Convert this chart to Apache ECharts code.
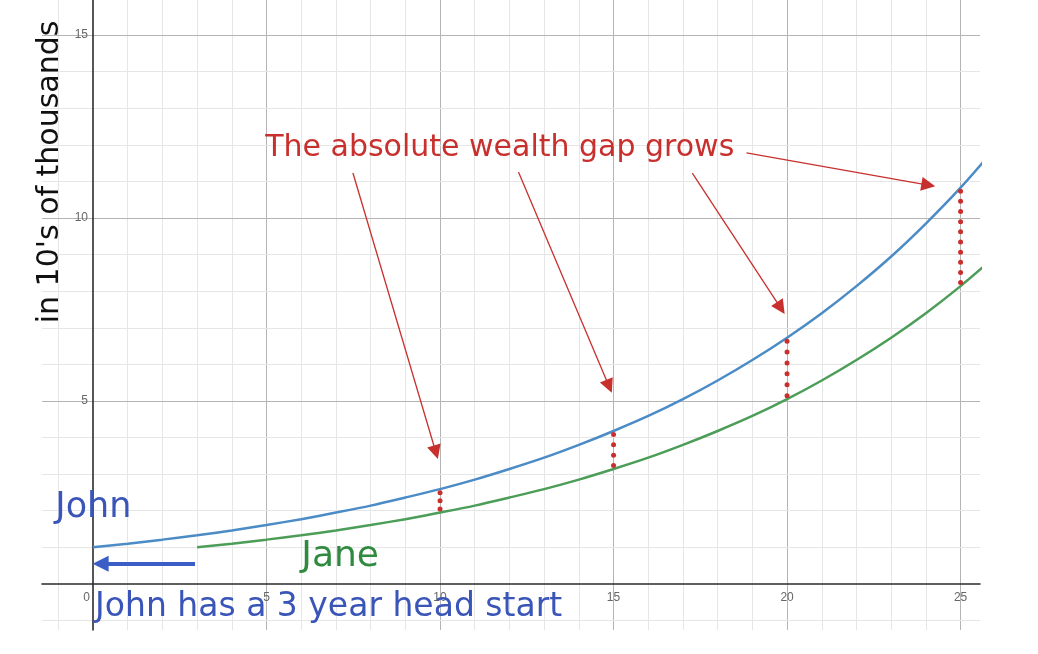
<!DOCTYPE html>
<html>
<head>
<meta charset="utf-8">
<script src="https://cdn.jsdelivr.net/npm/echarts@6/dist/echarts.min.js"></script>
<style>
html,body{margin:0;padding:0;background:#fff;}
#chart{width:1038px;height:654px;}
</style>
</head>
<body>
<div id="chart"></div>
<script>
// ---- data ----
const johnX = [0,1,2,3,4,5,6,7,8,9,10,11,12,13,14,15,16,17,18,19,20,21,22,23,24,25,26];
const johnY = [1.00,1.10,1.21,1.33,1.46,1.61,1.77,1.95,2.14,2.36,2.59,2.85,3.14,3.45,3.80,4.18,4.59,5.05,5.56,6.12,6.73,7.40,8.14,8.95,9.85,10.83,11.92];
const janeX = [3,4,5,6,7,8,9,10,11,12,13,14,15,16,17,18,19,20,21,22,23,24,25,26];
const janeY = [1.00,1.10,1.21,1.33,1.46,1.61,1.77,1.95,2.14,2.36,2.59,2.85,3.14,3.45,3.80,4.18,4.59,5.05,5.56,6.12,6.73,7.40,8.14,8.95];
const gapX = [10,15,20,25];
const xTickLabels = [0,5,10,15,20,25];
const yTickLabels = [5,10,15];

// annotation arrows (start, tip) in data units
const gapArrows = [
  [[7.49,11.23],[9.88,3.60]],
  [[12.26,11.26],[14.87,5.40]],
  [[17.27,11.23],[19.82,7.54]],
  [[18.83,11.78],[24.07,10.90]]
];
const headStartArrow = [[2.94,0.55],[0.22,0.55]];

// annotation texts
const titleText = 'The absolute wealth gap grows';
const yLabelText = "in 10's of thousands";

// ---- view ----
const xMin = -1.47, xMax = 25.56, yMin = -1.26, yMax = 15.96;
const RED = '#c8302e', BLUE_TXT = '#3a55b8', GREEN_TXT = '#2f8a3f';
const BLUE_LINE = '#4b8bc6', GREEN_LINE = '#4b9d57';
const FONT = 'DejaVu Sans';

const pair = (xs, ys) => xs.map((x, i) => [x, ys[i]]);

const gridLines = [];
for (let v = Math.ceil(xMin); v <= Math.floor(xMax); v++) {
  if (v === 0) continue;
  const major = v % 5 === 0;
  gridLines.push({xAxis: v, lineStyle: {color: major ? '#b4b4b4' : '#e6e6e6', width: 1, type: 'solid'}});
}
for (let v = Math.ceil(yMin); v <= Math.floor(yMax); v++) {
  if (v === 0) continue;
  const major = v % 5 === 0;
  gridLines.push({yAxis: v, lineStyle: {color: major ? '#b4b4b4' : '#e6e6e6', width: 1, type: 'solid'}});
}

// gap rows: [x, Jane value, John value]
const gapData = gapX.map(x => [x, janeY[janeX.indexOf(x)], johnY[johnX.indexOf(x)]]);

function renderGap(params, api) {
  const x = api.value(0);
  const pLow = api.coord([x, api.value(1)]);
  const pHigh = api.coord([x, api.value(2)]);
  const top = pHigh[1] + 3.5, bottom = pLow[1] - 3.5;
  const len = bottom - top;
  const n = Math.max(1, Math.round(len / 10));
  const step = len / n;
  const children = [];
  for (let i = 0; i <= n; i++) {
    children.push({type: 'circle', shape: {cx: pHigh[0], cy: top + i * step, r: 2.5}, style: {fill: RED}});
  }
  return {type: 'group', children: children};
}

function textPoint(coord, text, color, size, rotate) {
  return {
    coord: coord,
    value: text,
    symbolSize: 1,
    itemStyle: {color: 'rgba(0,0,0,0)'},
    label: {
      show: true, position: 'inside', formatter: text, color: color,
      fontFamily: FONT, fontSize: size, fontWeight: 'normal',
      align: 'center', verticalAlign: 'middle', rotate: rotate || 0
    }
  };
}

const chart = echarts.init(document.getElementById('chart'));
chart.setOption({
  animation: false,
  backgroundColor: '#ffffff',
  grid: {left: 42, right: 58, top: 0, bottom: 24, containLabel: false},
  xAxis: {
    type: 'value', min: xMin, max: xMax, minInterval: 5, maxInterval: 5, z: 2,
    axisLine: {show: true, onZero: true, lineStyle: {color: '#2b2b2b', width: 1.6}},
    axisTick: {show: false},
    splitLine: {show: false},
    axisLabel: {
      showMinLabel: false, showMaxLabel: false, margin: -38,
      color: '#666', fontFamily: 'Liberation Sans', fontSize: 12,
      formatter: v => {
        const r = Math.round(v);
        if (Math.abs(v - r) > 1e-6 || xTickLabels.indexOf(r) < 0) return '';
        return r === 0 ? '{z|0}' : String(r);
      },
      rich: {z: {color: '#666', fontFamily: 'Liberation Sans', fontSize: 12, padding: [0, 13, 0, 0]}}
    }
  },
  yAxis: {
    type: 'value', min: yMin, max: yMax, minInterval: 5, maxInterval: 5, z: 2,
    axisLine: {show: true, onZero: true, lineStyle: {color: '#2b2b2b', width: 1.6}},
    axisTick: {show: false},
    splitLine: {show: false},
    axisLabel: {
      showMinLabel: false, showMaxLabel: false, margin: -46,
      color: '#666', fontFamily: 'Liberation Sans', fontSize: 12,
      formatter: v => {
        const r = Math.round(v);
        if (Math.abs(v - r) > 1e-6 || yTickLabels.indexOf(r) < 0) return '';
        return String(r);
      }
    }
  },
  series: [
    {
      type: 'line', z: 1, silent: true, showSymbol: false,
      data: [[0, 0]], lineStyle: {opacity: 0},
      markLine: {z: 1, silent: true, symbol: 'none', label: {show: false}, animation: false, data: gridLines}
    },
    {
      name: 'John', type: 'line', z: 3, smooth: 0.3, showSymbol: false, silent: true,
      data: pair(johnX, johnY), lineStyle: {color: BLUE_LINE, width: 2.5}
    },
    {
      name: 'Jane', type: 'line', z: 3, smooth: 0.3, showSymbol: false, silent: true,
      data: pair(janeX, janeY), lineStyle: {color: GREEN_LINE, width: 2.5}
    },
    {
      name: 'Gap', type: 'custom', z: 4, silent: true,
      encode: {x: 0, y: [1, 2]},
      data: gapData,
      renderItem: renderGap
    },
    {
      type: 'line', z: 5, silent: true, showSymbol: false, data: [[0, 0]], lineStyle: {opacity: 0},
      itemStyle: {color: RED},
      markLine: {
        z: 5, silent: true, animation: false, symbol: ['none', 'triangle'], symbolSize: 14,
        label: {show: false},
        itemStyle: {color: RED},
        lineStyle: {color: RED, width: 1.3, type: 'solid'},
        data: gapArrows.map(a => [{coord: a[0]}, {coord: a[1]}])
      }
    },
    {
      type: 'line', z: 5, silent: true, showSymbol: false, data: [[0, 0]], lineStyle: {opacity: 0},
      itemStyle: {color: '#3b5ec6'},
      markLine: {
        z: 5, silent: true, animation: false, symbol: ['none', 'triangle'], symbolSize: 16,
        label: {show: false},
        lineStyle: {color: '#3b5ec6', width: 4, type: 'solid'},
        itemStyle: {color: '#3b5ec6'},
        data: [[{coord: headStartArrow[0]}, {coord: headStartArrow[1]}]]
      }
    },
    {
      type: 'scatter', z: 6, silent: true, data: [], 
      markPoint: {
        z: 6, silent: true, animation: false, symbol: 'circle',
        data: [
          textPoint([11.72, 11.91], titleText, RED, 30),
          textPoint([0.01, 2.09], 'John', BLUE_TXT, 35),
          textPoint([7.12, 0.75], 'Jane', GREEN_TXT, 36),
          textPoint([6.79, -0.64], 'John has a 3 year head start', BLUE_TXT, 33),
          textPoint([-1.24, 11.26], yLabelText, '#111', 30, 90)
        ]
      }
    }
  ]
});
</script>
</body>
</html>
